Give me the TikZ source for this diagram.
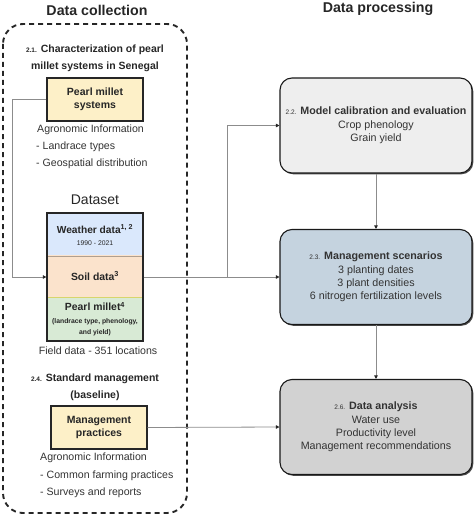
\documentclass[tikz,border=0pt]{standalone}
\usepackage{fontspec}
\setmainfont{Liberation Sans}
\usetikzlibrary{shadows,arrows.meta}
\definecolor{cyellow}{HTML}{FDF0C8}
\definecolor{cblue}{HTML}{DAE8FC}
\definecolor{cpeach}{HTML}{FBE3CC}
\definecolor{cgreen}{HTML}{D8EAD5}
\definecolor{clgray}{HTML}{EEEEEE}
\definecolor{cbgray}{HTML}{C5D3DF}
\definecolor{cmgray}{HTML}{D2D2D2}
\definecolor{ctext}{HTML}{333333}
\newcommand{\secnum}{\fontsize{6.5}{7}\selectfont}
\newcommand{\sml}{\fontsize{6.8}{8}\selectfont}
\begin{document}
\begin{tikzpicture}[x=1pt,y=-1pt,
  title/.style={font=\bfseries\fontsize{14.2}{16}\selectfont, text=black!85},
  plain/.style={font=\fontsize{10.6}{12}\selectfont, text=ctext, inner sep=0pt},
  head/.style={font=\bfseries\fontsize{10.5}{17}\selectfont, text=black!85, align=center, inner sep=0pt},
  ybox/.style={draw=black!85, line width=1.3pt, fill=cyellow, minimum width=96pt, minimum height=43pt,
    align=center, font=\bfseries\fontsize{10.5}{12.5}\selectfont, text=black!85, inner sep=0pt},
  pbox/.style={draw=black!90, line width=1.1pt, rounded corners=12pt, minimum width=192pt, minimum height=95pt,
    align=center, font=\fontsize{10.7}{13.3}\selectfont, text=ctext, inner sep=0pt,
    drop shadow={shadow xshift=1.3pt, shadow yshift=-1.3pt, fill=black!70, opacity=1}},
  conn/.style={draw=black!45, line width=0.8pt},
  tip/.style={-{Triangle[length=3.5pt,width=3.5pt,fill=black!85,color=black!85]}},
]
\useasboundingbox (0,0) rectangle (474,516);
% titles
\node[title] (tcoll) at (97,10) {Data collection};
\node[title] (tproc) at (378,9) {Data processing};
% dashed frame
\draw[line width=1.9pt, dash pattern=on 5pt off 4pt, rounded corners=20pt, color=black!85] (3,24) rectangle (187,513);
% section 2.1
\node[head] (h21) at (95,58.5) {{\secnum 2.1.} Characterization of pearl\\millet systems in Senegal};
\node[ybox] (pms) at (95,99.5) {Pearl millet\\systems};
\node[plain, anchor=west] (ag1) at (37,130) {Agronomic Information};
\node[plain, anchor=west] (ag2) at (36,147) {- Landrace types};
\node[plain, anchor=west] (ag3) at (36,164) {- Geospatial distribution};
% dataset
\node[font=\fontsize{14}{16}\selectfont, text=black!85] (dst) at (95,200) {Dataset};
\node[draw=none, fill=cblue, minimum width=96pt, minimum height=42pt, inner sep=0pt, align=center,
  text=black!85] (wd) at (95,235) {\bfseries\fontsize{10.2}{11}\selectfont Weather data\textsuperscript{1, 2}\\[-0.5pt]\sml 1990 - 2021};
\node[draw=none, fill=cpeach, minimum width=96pt, minimum height=42pt, inner sep=0pt,
  font=\bfseries\fontsize{10.4}{11}\selectfont, text=black!85] (sd) at (95,276) {Soil data\textsuperscript{3}};
\node[draw=none, fill=cgreen, minimum width=96pt, minimum height=44pt, inner sep=0pt, align=center,
  text=black!85, font=\bfseries] (pm) at (95,319) {\fontsize{10.4}{11}\selectfont Pearl millet\textsuperscript{4}\\[0.5pt]\sml (landrace type, phenology,\\[-1pt]\sml and yield)};
\draw[color=black!30!cpeach, line width=0.5pt] (wd.south west) -- (wd.south east);
\draw[color=black!20!yellow!60!cgreen, line width=0.6pt] (sd.south west) -- (sd.south east);
\node[draw=black!85, line width=1.3pt, minimum width=96pt, minimum height=128pt, inner sep=0pt] (dsbox) at (95,277) {};
\node[plain] (fd) at (98,351) {Field data - 351 locations};
% section 2.4
\node[head] (h24) at (95,387) {{\secnum 2.4.} Standard management\\(baseline)};
\node[ybox] (mp) at (99,427.5) {Management\\practices};
\node[plain, anchor=west] (ag4) at (40,458) {Agronomic Information};
\node[plain, anchor=west] (ag5) at (40,476) {- Common farming practices};
\node[plain, anchor=west] (ag6) at (40,493) {- Surveys and reports};
% right boxes
\node[pbox, fill=clgray] (b22) at (376,125.5) {{\secnum 2.2.} {\bfseries Model calibration and evaluation}\\Crop phenology\\Grain yield};
\node[pbox, fill=cbgray] (b23) at (376,277) {{\secnum 2.3.} {\bfseries Management scenarios}\\3 planting dates\\3 plant densities\\6 nitrogen fertilization levels};
\node[pbox, fill=cmgray] (b26) at (376,427) {{\secnum 2.6.} {\bfseries Data analysis}\\Water use\\Productivity level\\Management recommendations};
% connectors
\coordinate (c1) at (12,99.5);
\coordinate (c2) at (12,277);
\coordinate (j) at (227,277);
\coordinate (j2) at (227,125.5);
\draw[conn, tip] (pms.west) -- (c1) -- (c2) -- (dsbox.west);
\draw[conn, tip] (dsbox.east) -- (b23.west);
\draw[conn, tip] (j) -- (j2) -- (b22.west);
\draw[conn, tip] (mp.east) -- (b26.west);
\draw[conn, tip] (b22.south) -- (b23.north);
\draw[conn, tip] (b23.south) -- (b26.north);
\end{tikzpicture}
\end{document}
